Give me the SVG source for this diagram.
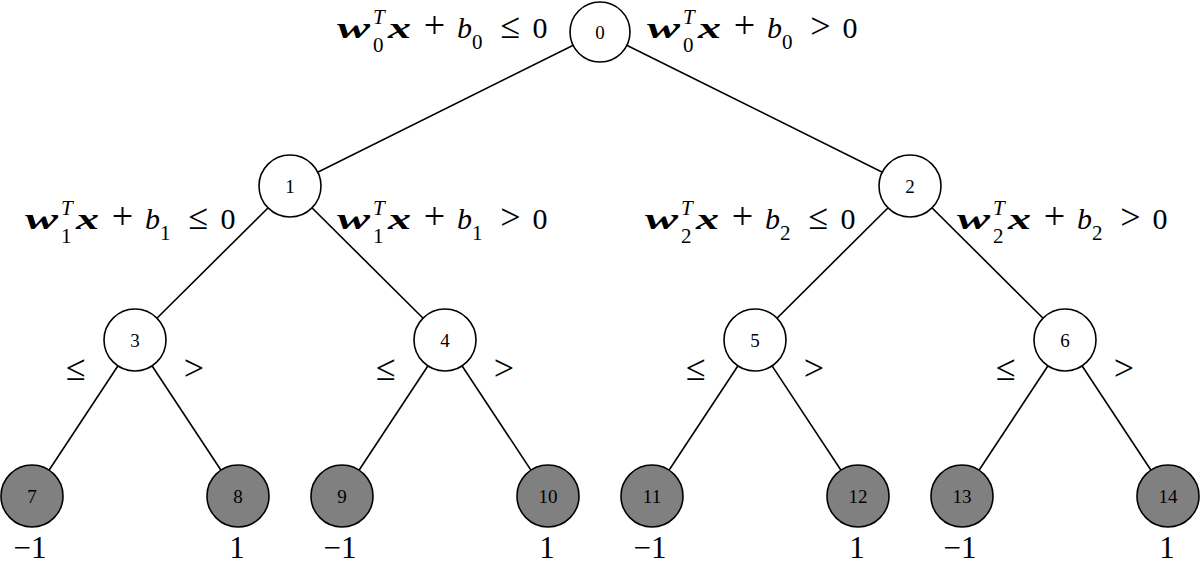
<svg xmlns="http://www.w3.org/2000/svg" width="1200" height="564" viewBox="0 0 1200 564">
<style>
.n{fill:#fff;stroke:#000;stroke-width:1.6}
.l{fill:#808080;stroke:#000;stroke-width:1.6}
.e{stroke:#000;stroke-width:1.6;fill:none}
.t{font-family:"Liberation Serif",serif;font-size:19px;text-anchor:middle;fill:#000}
.m{font-family:"Liberation Serif",serif;font-size:30px;fill:#000}
.bi{font-weight:bold;font-style:italic}
.it{font-style:italic}
.s{font-size:21px}
.r{font-size:36px}
.p{font-size:38px}
.c{text-anchor:middle}
.v{font-size:31px}
</style>
<rect width="1200" height="564" fill="#fff"/>
<g id="edges">
<line class="e" x1="600" y1="32" x2="290" y2="186"/>
<line class="e" x1="600" y1="32" x2="910" y2="186"/>
<line class="e" x1="290" y1="186" x2="135" y2="340"/>
<line class="e" x1="290" y1="186" x2="445" y2="340"/>
<line class="e" x1="910" y1="186" x2="755" y2="340"/>
<line class="e" x1="910" y1="186" x2="1065" y2="340"/>
<line class="e" x1="135" y1="340" x2="32" y2="496"/>
<line class="e" x1="135" y1="340" x2="238" y2="496"/>
<line class="e" x1="445" y1="340" x2="342" y2="496"/>
<line class="e" x1="445" y1="340" x2="548" y2="496"/>
<line class="e" x1="755" y1="340" x2="652" y2="496"/>
<line class="e" x1="755" y1="340" x2="858" y2="496"/>
<line class="e" x1="1065" y1="340" x2="962" y2="496"/>
<line class="e" x1="1065" y1="340" x2="1168" y2="496"/>
</g>
<g id="node0"><circle class="n" cx="600" cy="32" r="30"/><text class="t" x="600" y="38.5">0</text></g>
<g id="node1"><circle class="n" cx="290" cy="186" r="31"/><text class="t" x="290" y="192.5">1</text></g>
<g id="node2"><circle class="n" cx="910" cy="186" r="31"/><text class="t" x="910" y="192.5">2</text></g>
<g id="node3"><circle class="n" cx="135" cy="340" r="31"/><text class="t" x="135" y="346.5">3</text></g>
<g id="node4"><circle class="n" cx="445" cy="340" r="31"/><text class="t" x="445" y="346.5">4</text></g>
<g id="node5"><circle class="n" cx="755" cy="340" r="31"/><text class="t" x="755" y="346.5">5</text></g>
<g id="node6"><circle class="n" cx="1065" cy="340" r="31"/><text class="t" x="1065" y="346.5">6</text></g>
<g id="node7"><circle class="l" cx="32" cy="496" r="31"/><text class="t" x="32" y="502.5">7</text></g>
<g id="node8"><circle class="l" cx="238" cy="496" r="31"/><text class="t" x="238" y="502.5">8</text></g>
<g id="node9"><circle class="l" cx="342" cy="496" r="31"/><text class="t" x="342" y="502.5">9</text></g>
<g id="node10"><circle class="l" cx="548" cy="496" r="31"/><text class="t" x="548" y="502.5">10</text></g>
<g id="node11"><circle class="l" cx="652" cy="496" r="31"/><text class="t" x="652" y="502.5">11</text></g>
<g id="node12"><circle class="l" cx="858" cy="496" r="31"/><text class="t" x="858" y="502.5">12</text></g>
<g id="node13"><circle class="l" cx="962" cy="496" r="31"/><text class="t" x="962" y="502.5">13</text></g>
<g id="node14"><circle class="l" cx="1168" cy="496" r="31"/><text class="t" x="1168" y="502.5">14</text></g>
<g id="labels">
<g id="lab0le">
<text class="m bi" x="337" y="38" textLength="33" lengthAdjust="spacingAndGlyphs">w</text>
<text class="m s it" x="373" y="24">T</text>
<text class="m s" x="373" y="52">0</text>
<text class="m bi" x="388" y="38" textLength="23" lengthAdjust="spacingAndGlyphs">x</text>
<text class="m p c" x="434.5" y="38">+</text>
<text class="m it" x="457" y="38">b</text>
<text class="m s" x="472" y="49">0</text>
<text class="m r c" x="510.5" y="38">≤</text>
<text class="m c" x="540" y="38">0</text>
</g>
<g id="lab0gt">
<text class="m bi" x="647" y="38" textLength="33" lengthAdjust="spacingAndGlyphs">w</text>
<text class="m s it" x="683" y="24">T</text>
<text class="m s" x="683" y="52">0</text>
<text class="m bi" x="698" y="38" textLength="23" lengthAdjust="spacingAndGlyphs">x</text>
<text class="m p c" x="744.5" y="38">+</text>
<text class="m it" x="767" y="38">b</text>
<text class="m s" x="782" y="49">0</text>
<text class="m r c" x="820.5" y="38">&gt;</text>
<text class="m c" x="850" y="38">0</text>
</g>
<g id="lab1le">
<text class="m bi" x="25" y="229" textLength="33" lengthAdjust="spacingAndGlyphs">w</text>
<text class="m s it" x="61" y="215">T</text>
<text class="m s" x="61" y="243">1</text>
<text class="m bi" x="76" y="229" textLength="23" lengthAdjust="spacingAndGlyphs">x</text>
<text class="m p c" x="122.5" y="229">+</text>
<text class="m it" x="145" y="229">b</text>
<text class="m s" x="160" y="240">1</text>
<text class="m r c" x="198.5" y="229">≤</text>
<text class="m c" x="228" y="229">0</text>
</g>
<g id="lab1gt">
<text class="m bi" x="337" y="229" textLength="33" lengthAdjust="spacingAndGlyphs">w</text>
<text class="m s it" x="373" y="215">T</text>
<text class="m s" x="373" y="243">1</text>
<text class="m bi" x="388" y="229" textLength="23" lengthAdjust="spacingAndGlyphs">x</text>
<text class="m p c" x="434.5" y="229">+</text>
<text class="m it" x="457" y="229">b</text>
<text class="m s" x="472" y="240">1</text>
<text class="m r c" x="510.5" y="229">&gt;</text>
<text class="m c" x="540" y="229">0</text>
</g>
<g id="lab2le">
<text class="m bi" x="645" y="229" textLength="33" lengthAdjust="spacingAndGlyphs">w</text>
<text class="m s it" x="681" y="215">T</text>
<text class="m s" x="681" y="243">2</text>
<text class="m bi" x="696" y="229" textLength="23" lengthAdjust="spacingAndGlyphs">x</text>
<text class="m p c" x="742.5" y="229">+</text>
<text class="m it" x="765" y="229">b</text>
<text class="m s" x="780" y="240">2</text>
<text class="m r c" x="818.5" y="229">≤</text>
<text class="m c" x="848" y="229">0</text>
</g>
<g id="lab2gt">
<text class="m bi" x="957" y="229" textLength="33" lengthAdjust="spacingAndGlyphs">w</text>
<text class="m s it" x="993" y="215">T</text>
<text class="m s" x="993" y="243">2</text>
<text class="m bi" x="1008" y="229" textLength="23" lengthAdjust="spacingAndGlyphs">x</text>
<text class="m p c" x="1054.5" y="229">+</text>
<text class="m it" x="1077" y="229">b</text>
<text class="m s" x="1092" y="240">2</text>
<text class="m r c" x="1130.5" y="229">&gt;</text>
<text class="m c" x="1160" y="229">0</text>
</g>
<text class="m r c" x="76" y="380">≤</text>
<text class="m r c" x="194" y="380">&gt;</text>
<text class="m r c" x="386" y="380">≤</text>
<text class="m r c" x="504" y="380">&gt;</text>
<text class="m r c" x="696" y="380">≤</text>
<text class="m r c" x="814" y="380">&gt;</text>
<text class="m r c" x="1006" y="380">≤</text>
<text class="m r c" x="1124" y="380">&gt;</text>
<text class="m v c" x="30" y="558">−1</text>
<text class="m v c" x="237" y="558">1</text>
<text class="m v c" x="340" y="558">−1</text>
<text class="m v c" x="547" y="558">1</text>
<text class="m v c" x="650" y="558">−1</text>
<text class="m v c" x="857" y="558">1</text>
<text class="m v c" x="960" y="558">−1</text>
<text class="m v c" x="1167" y="558">1</text>
</g>
</svg>
